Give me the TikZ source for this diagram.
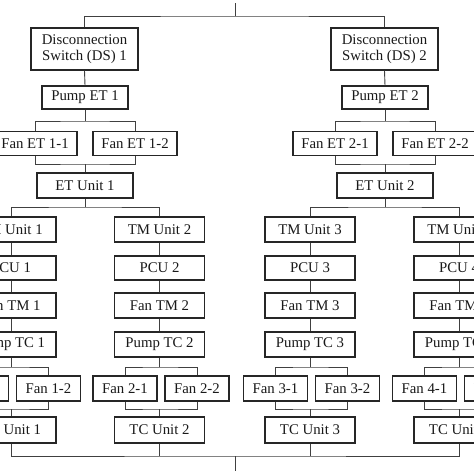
\documentclass[tikz,border=0pt]{standalone}
\usepackage{fontspec}
\setmainfont{Liberation Serif}
\begin{document}
\begin{tikzpicture}[x=1pt,y=-1pt,
  every node/.style={font=\fontsize{14.8}{15.5}\selectfont, text=black!90},
  box/.style={draw=black!85, line width=1.1pt, inner sep=0pt, align=center},
  colbox/.style={box, minimum width=90pt, minimum height=25pt},
  fanbox/.style={box, minimum width=64pt, minimum height=25pt},
  conn/.style={draw=black!75, line width=0.9pt}]
\clip (0,0) rectangle (474,474);
\fill[white] (0,0) rectangle (474,474);
% top level
\coordinate (top) at (235,16);
\coordinate (topstub) at (235,3);
\node[box, minimum width=107pt, minimum height=42pt] (ds1) at (84.5,49) {Disconnection\\Switch (DS) 1};
\node[box, minimum width=107pt, minimum height=42pt] (ds2) at (384.5,49) {Disconnection\\Switch (DS) 2};
\draw[conn] (ds1.north) |- (top) -| (ds2.north);
\draw[conn] (top) -- (topstub);
% ET sections
\foreach \j/\cx in {1/85, 2/385}{
  \node[box, minimum width=86pt, minimum height=23pt] (pe\j) at (\cx,97.5) {Pump ET \j};
  \node[box, minimum width=84pt, minimum height=24pt] (fea\j) at (\cx-50,143.5) {Fan ET \j-1};
  \node[box, minimum width=84pt, minimum height=24pt] (feb\j) at (\cx+50,143.5) {Fan ET \j-2};
  \node[box, minimum width=96pt, minimum height=25pt] (et\j) at (\cx,185.5) {ET Unit \j};
  \coordinate (bt\j) at (\cx,121);
  \coordinate (bb\j) at (\cx,164);
  \coordinate (br\j) at (\cx,207);
  \draw[conn] (ds\j.south) -- (pe\j.north);
  \draw[conn] (pe\j.south) -- (bt\j);
  \draw[conn] (fea\j.north) |- (bt\j) -| (feb\j.north);
  \draw[conn] (fea\j.south) |- (bb\j) -| (feb\j.south);
  \draw[conn] (bb\j) -- (et\j.north);
  \draw[conn] (et\j.south) -- (br\j);
}
% columns
\foreach \i/\x in {1/11, 2/159.5, 3/310, 4/459}{
  \node[colbox] (tm\i) at (\x,229.5) {TM Unit \i};
  \node[colbox, minimum height=24pt] (pcu\i) at (\x,268) {PCU \i};
  \node[colbox] (ftm\i) at (\x,305.5) {Fan TM \i};
  \node[colbox] (ptc\i) at (\x,344.5) {Pump TC \i};
  \node[fanbox] (fa\i) at (\x-34.5,388.5) {Fan \i-1};
  \node[fanbox] (fb\i) at (\x+37.5,388.5) {Fan \i-2};
  \node[colbox, minimum height=26pt] (tc\i) at (\x,430) {TC Unit \i};
  \coordinate (ft\i) at (\x,367);
  \coordinate (fbb\i) at (\x,409);
  \draw[conn] (tm\i.south) -- (pcu\i.north);
  \draw[conn] (pcu\i.south) -- (ftm\i.north);
  \draw[conn] (ftm\i.south) -- (ptc\i.north);
  \draw[conn] (ptc\i.south) -- (ft\i);
  \draw[conn] (fa\i.north) |- (ft\i) -| (fb\i.north);
  \draw[conn] (fa\i.south) |- (fbb\i) -| (fb\i.south);
  \draw[conn] (fbb\i) -- (tc\i.north);
}
\draw[conn] (tm1.north) |- (br1) -| (tm2.north);
\draw[conn] (tm3.north) |- (br2) -| (tm4.north);
% bottom
\coordinate (bot) at (235,456);
\coordinate (botstub) at (235,471);
\draw[conn] (tc1.south) |- (bot) -| (tc4.south);
\draw[conn] (tc2.south) -- (tc2.south |- bot);
\draw[conn] (tc3.south) -- (tc3.south |- bot);
\draw[conn] (bot) -- (botstub);
\end{tikzpicture}
\end{document}
